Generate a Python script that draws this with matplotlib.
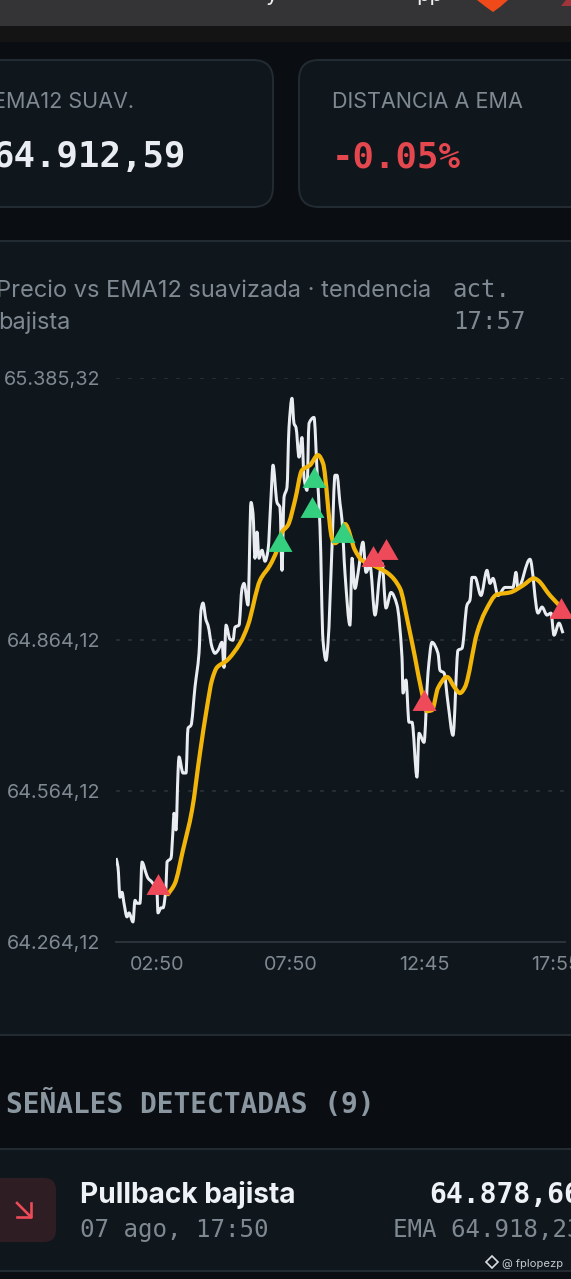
import matplotlib
matplotlib.use("Agg")
import matplotlib.pyplot as plt
from matplotlib.patches import FancyBboxPatch, Rectangle, Polygon, PathPatch
from matplotlib.path import Path

W, H = 571, 1279

# Elapsed time, in units of about 2.24 minutes from the first sample
price_t = [0,2,4,6,8,11,13,17,19,21,24,26,30,32,36,41,42,45,47,50,51,55,57,58,60,62,63,67,70,72,75,79,83,85,87,90,92,96,99,102,106,108,110,114,117,119,123,126,128,132,135,137,139,141,143,146,149,152,155,157,161,164,166,168,171,173,176,178,180,183,186,188,191,193,198,201,204,207,210,212,216,219,221,224,226,229,234,236,239,242,247,250,254,259,264,266,270,275,281,286,287,290,293,296,301,303,308,312,316,322,324,328,332,337,342,346,351,354,356,359,365,371,374,377,382,389,397,400,402,414,422,426,431,435,438,443,447]
price_v = [64431,64413,64353,64363,64341,64314,64322,64304,64347,64341,64341,64423,64401,64391,64383,64361,64322,64332,64332,64373,64423,64431,64487,64520,64487,64600,64632,64600,64600,64689,64695,64771,64838,64924,64938,64904,64894,64850,64838,64844,64860,64810,64894,64866,64864,64890,64894,64967,64977,64934,65138,65116,65027,65079,65027,65043,65021,65043,65148,65212,65138,65128,65003,65148,65168,65287,65345,65295,65287,65228,65267,65188,65162,65295,65307,65202,65089,64864,64824,64858,65049,65192,65192,65136,65103,64997,64894,65027,64967,64997,65059,64999,65013,64914,64999,65017,64928,64959,64934,64830,64759,64785,64701,64701,64592,64679,64661,64799,64860,64838,64804,64799,64739,64675,64844,64848,64934,64944,64989,64989,64953,65003,64977,64987,64953,64969,64969,64999,64967,65025,64918,64930,64914,64918,64874,64898,64878]
ema_t = [52,59,67,76,84,91,96,101,111,124,132,144,154,161,166,172,179,186,194,202,207,216,219,222,229,239,246,257,272,284,292,299,306,311,316,322,331,339,344,349,361,369,381,394,407,418,422,434,446]
ema_v = [64359,64381,64447,64526,64640,64731,64785,64810,64824,64858,64894,64983,65013,65043,65079,65093,65142,65202,65212,65232,65216,65067,65057,65061,65095,65043,65023,65013,64997,64967,64898,64830,64759,64723,64725,64769,64791,64769,64759,64771,64878,64920,64955,64959,64973,64987,64983,64953,64928]
buy_t = [164,196,198,227]
buy_v = [65061,65128,65188,65079]
sell_t = [42,257,270,308,445]
sell_v = [64379,65031,65045,64745,64928]
y_ticks = [64264.12,64564.12,64864.12,65385.32]
y_labels = ["64.264,12","64.564,12","64.864,12","65.385,32"]
x_ticks = [41,175,308,440]
x_labels = ["02:50","07:50","12:45","17:55"]

BG = "#0a0e12"
CARD = "#0f161c"
EDGE = "#232b33"
MUTED = "#7f8992"
WHITE = "#e9edf2"
RED = "#ef4a5a"
TEXT_RED = "#e5474f"
GREEN = "#34d07f"
AMBER = "#f2b50a"
SANS = "Inter"
MONO = "DejaVu Sans Mono"

def pt(px):
    return px * 72 / 100

def smooth_path(xs, ys):
    """Monotone-x cubic Bezier path through the given data points."""
    n = len(xs)
    d = [(ys[i + 1] - ys[i]) / (xs[i + 1] - xs[i]) for i in range(n - 1)]
    m = [d[0]] + [0.0] * (n - 2) + [d[-1]]
    for i in range(1, n - 1):
        if d[i - 1] * d[i] > 0:
            m[i] = 2 * d[i - 1] * d[i] / (d[i - 1] + d[i])
    verts = [(xs[0], ys[0])]
    codes = [Path.MOVETO]
    for i in range(n - 1):
        h = xs[i + 1] - xs[i]
        verts += [(xs[i] + h / 3, ys[i] + m[i] * h / 3),
                  (xs[i + 1] - h / 3, ys[i + 1] - m[i + 1] * h / 3),
                  (xs[i + 1], ys[i + 1])]
        codes += [Path.CURVE4] * 3
    return Path(verts, codes)

fig = plt.figure(figsize=(W / 100, H / 100), dpi=100, facecolor=BG)
bg = fig.add_axes([0, 0, 1, 1])
bg.set_xlim(0, W)
bg.set_ylim(H, 0)
bg.axis("off")

def text(x, y, s, px, color, family=SANS, ha="left", weight="normal"):
    bg.text(x, y, s, fontsize=pt(px), color=color, family=family, ha=ha, va="baseline", weight=weight)

# Browser strip
bg.add_patch(Rectangle((0, 0), W, 26, fc="#343436", lw=0))
bg.add_patch(Rectangle((0, 26), W, 16, fc="#141414", lw=0))
bg.add_patch(Polygon([(477, 0), (508, 0), (500, 7), (493, 12), (486, 7)], fc="#f04a1a", lw=0))
bg.add_patch(Polygon([(561, 6), (566, 0), (571, 0), (571, 6)], fc="#a0343a", lw=0))
text(265, 1, "y", 22, "#f0f0f0")
text(416, 1, "pp", 22, "#f0f0f0")

# Metric cards
def card(x, y, w, h, r=20):
    bg.add_patch(FancyBboxPatch((x + r, y + r), w - 2 * r, h - 2 * r, boxstyle=f"round,pad={r},rounding_size={r}",
                                fc=CARD, ec=EDGE, lw=1.4))
card(-60, 60, 333, 147)
card(299, 60, 340, 147)
text(134, 108, "EMA12 SUAV.", 21.6, MUTED, ha="right")
text(332, 108, "DISTANCIA A EMA", 21.6, MUTED)
text(186, 167, "64.912,59", 35.6, WHITE, MONO, ha="right", weight="bold")
text(332, 167, "-0.05%", 35.6, TEXT_RED, MONO, weight="bold")

# Chart panel
bg.add_patch(Rectangle((-5, 241), W + 10, 794, fc=CARD, ec=EDGE, lw=1.4))
text(431, 297, "Precio vs EMA12 suavizada · tendencia", 23.6, MUTED, ha="right")
text(-2, 329, "bajista", 23.6, MUTED)
text(453, 297, "act.", 24, MUTED, MONO)
text(453, 329, "17:57", 24, MUTED, MONO)

# Signals header and row
text(6, 1113, "SEÑALES DETECTADAS (9)", 27.9, "#8a96a0", MONO, weight="bold")
bg.add_patch(Rectangle((-5, 1149), W + 10, 122, fc=CARD, ec=EDGE, lw=1.4))
bg.add_patch(FancyBboxPatch((-20, 1190), 64, 40, boxstyle="round,pad=12,rounding_size=12", fc="#2e1d22", lw=0))
bg.plot([17, 31], [1203, 1217], color=RED, lw=pt(2.6))
bg.plot([31, 31, 17], [1203, 1217, 1217], color=RED, lw=pt(2.6))
text(80, 1203, "Pullback bajista", 28, "#eef1f5", SANS, weight="bold")
text(80, 1237, "07 ago, 17:50", 24.1, MUTED, MONO)
text(429, 1203, "64.878,66", 28, "#eef1f5", MONO, weight="bold")
text(393, 1237, "EMA 64.918,23", 24.1, MUTED, MONO)
bg.add_patch(Polygon([(492, 1256), (498, 1262), (492, 1268), (486, 1262)], fc="none", ec="#d8dde2", lw=1.2))
text(502, 1267, "@ fplopezp", 11.2, "#c4cad0")

# Price chart
L, R, T, B = 116, 565, 378, 942
ax = fig.add_axes([L / W, 1 - B / H, (R - L) / W, (B - T) / H])
ax.patch.set_alpha(0)
ax.set_xlim(0, R - L)
ax.set_ylim(y_ticks[0], y_ticks[-1])
for s in ("top", "left", "right"):
    ax.spines[s].set_visible(False)
ax.spines["bottom"].set_color("#2b323a")
ax.spines["bottom"].set_linewidth(pt(2))
ax.grid(axis="y", color="#2b323a", lw=pt(1.6), dashes=(2.5, 5))
ax.set_axisbelow(True)
ax.set_yticks(y_ticks, y_labels)
ax.set_xticks(x_ticks, x_labels)
ax.tick_params(axis="both", length=0, labelcolor=MUTED, labelsize=pt(19.8))
ax.tick_params(axis="y", pad=pt(15.5))
ax.tick_params(axis="x", pad=pt(14))
for lab in ax.get_xticklabels() + ax.get_yticklabels():
    lab.set_family(SANS)
    lab.set_clip_on(False)
ax.add_patch(PathPatch(smooth_path(price_t, price_v), fc="none", ec=WHITE, lw=pt(3.0), joinstyle="round", zorder=3))
ax.add_patch(PathPatch(smooth_path(ema_t, ema_v), fc="none", ec=AMBER, lw=pt(4.2), joinstyle="round", capstyle="round", zorder=4))
tri = [(-1, -0.87), (1, -0.87), (0, 0.87)]
ax.plot(buy_t, buy_v, ls="none", marker=tri, ms=pt(24), mfc=GREEN, mew=0, clip_on=False, zorder=5)
ax.plot(sell_t, sell_v, ls="none", marker=tri, ms=pt(24), mfc=RED, mew=0, clip_on=False, zorder=5)

fig.savefig("out.png", dpi=100, facecolor=BG)
